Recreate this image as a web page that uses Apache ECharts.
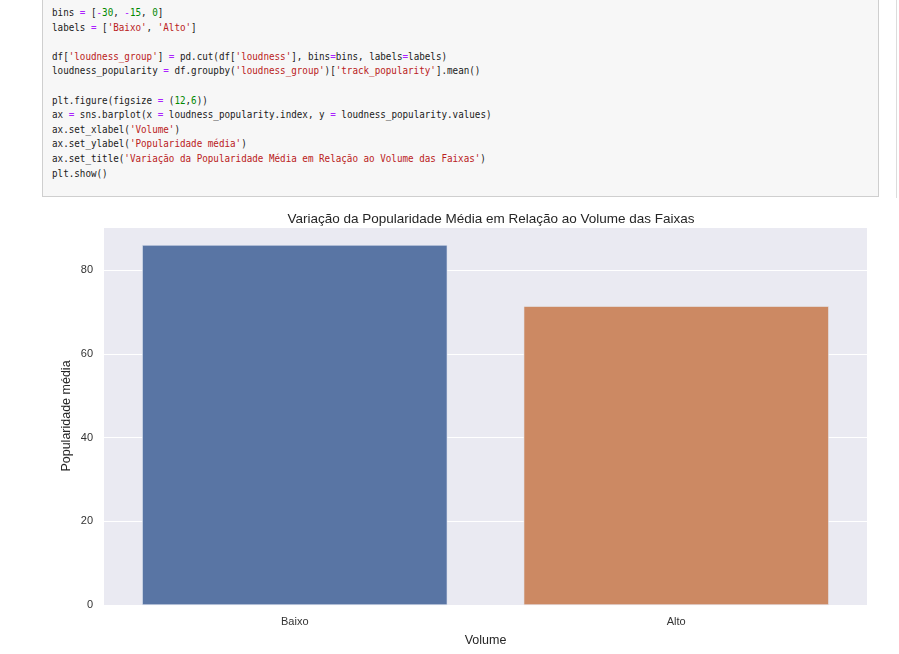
<!DOCTYPE html>
<html>
<head>
<meta charset="utf-8">
<script src="https://cdn.jsdelivr.net/npm/echarts@6/dist/echarts.min.js"></script>
<style>
  html, body { margin:0; padding:0; background:#fff; width:899px; height:654px; overflow:hidden; }
  #code { position:absolute; left:42px; top:-2px; width:837px; height:199px; background:#f7f7f7;
          border:1px solid #cfcfcf; box-sizing:border-box; }
  #code pre { margin:0; position:absolute; left:9px; top:7px; font-family:"DejaVu Sans Mono", "Liberation Mono", monospace;
          font-size:10px; line-height:14.6px; color:#1a1a1a; transform:scaleX(0.924); transform-origin:0 0; }
  .o { color:#aa22ff; } .s { color:#ba2121; } .n { color:#008800; }
  #edge { position:absolute; left:896px; top:0; width:1px; height:654px; background:#dcdcdc; }
  #chart { position:absolute; left:0; top:198px; width:899px; height:456px; }
</style>
</head>
<body>
<div id="code"><pre>bins <span class="o">=</span> [<span class="o">-</span><span class="n">30</span>, <span class="o">-</span><span class="n">15</span>, <span class="n">0</span>]
labels <span class="o">=</span> [<span class="s">'Baixo'</span>, <span class="s">'Alto'</span>]

df[<span class="s">'loudness_group'</span>] <span class="o">=</span> pd.cut(df[<span class="s">'loudness'</span>], bins<span class="o">=</span>bins, labels<span class="o">=</span>labels)
loudness_popularity <span class="o">=</span> df.groupby(<span class="s">'loudness_group'</span>)[<span class="s">'track_popularity'</span>].mean()

plt.figure(figsize <span class="o">=</span> (<span class="n">12</span>,<span class="n">6</span>))
ax <span class="o">=</span> sns.barplot(x <span class="o">=</span> loudness_popularity.index, y <span class="o">=</span> loudness_popularity.values)
ax.set_xlabel(<span class="s">'Volume'</span>)
ax.set_ylabel(<span class="s">'Popularidade média'</span>)
ax.set_title(<span class="s">'Variação da Popularidade Média em Relação ao Volume das Faixas'</span>)
plt.show()</pre></div>
<div id="edge"></div>
<div id="chart"></div>
<script>
const categories = ['Baixo', 'Alto'];
const values = [86.0, 71.4];
const barColors = ['#5975a4', '#cc8963'];
const yTicks = [0, 20, 40, 60, 80];

const chart = echarts.init(document.getElementById('chart'), null, { renderer: 'canvas' });
const font = '"Liberation Sans", Arial, sans-serif';
chart.setOption({
  animation: false,
  backgroundColor: '#ffffff',
  title: {
    text: 'Variação da Popularidade Média em Relação ao Volume das Faixas',
    left: 486, textAlign: 'center', top: 9,
    textStyle: { fontFamily: font, fontSize: 13.5, fontWeight: 'normal', color: '#262626' }
  },
  grid: { left: 104, right: 32, top: 29, bottom: 49, show: true, backgroundColor: '#eaeaf2', borderWidth: 0 },
  xAxis: {
    type: 'category', data: categories,
    name: 'Volume', nameLocation: 'middle', nameGap: 29, nameMoveOverlap: false,
    nameTextStyle: { fontFamily: font, fontSize: 12.5, color: '#262626' },
    axisLine: { show: false }, axisTick: { show: false },
    axisLabel: { fontFamily: font, fontSize: 11, color: '#333333', margin: 11 },
    splitLine: { show: false }
  },
  yAxis: {
    type: 'value', min: 0, max: 90.3, interval: 20,
    name: 'Popularidade média', nameLocation: 'middle', nameGap: 31, nameRotate: 90, nameMoveOverlap: false,
    nameTextStyle: { fontFamily: font, fontSize: 12.5, color: '#262626' },
    axisLine: { show: false }, axisTick: { show: false },
    axisLabel: { fontFamily: font, fontSize: 11, color: '#333333', margin: 11,
      formatter: v => yTicks.includes(v) ? String(v) : '' },
    splitLine: { show: true, lineStyle: { color: '#ffffff', width: 1.2 } }
  },
  series: [{
    type: 'bar',
    data: values.map((v, i) => ({ value: v, itemStyle: { color: barColors[i] } })),
    barWidth: '80%',
    itemStyle: { borderColor: '#e8ecf5', borderWidth: 0.6 }
  }]
});
</script>
</body>
</html>
